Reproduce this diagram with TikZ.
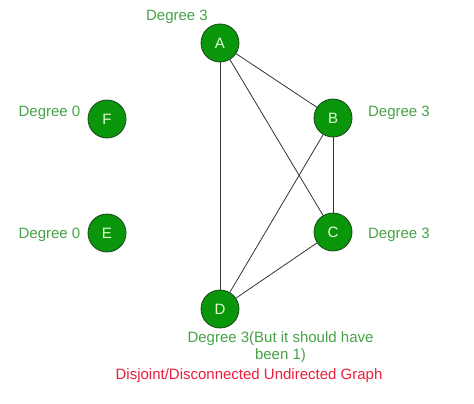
\documentclass[tikz,border=0pt]{standalone}
\usepackage{fontspec}
\setmainfont{Liberation Sans}
\usetikzlibrary{positioning}
\definecolor{vertexfill}{RGB}{10,150,10}
\definecolor{vertexline}{RGB}{25,70,25}
\definecolor{vertextext}{RGB}{225,255,210}
\definecolor{degreegreen}{RGB}{70,162,70}
\definecolor{captionred}{RGB}{235,30,60}

\begin{document}
\begin{tikzpicture}[x=1pt, y=-1pt, font=\fontsize{15}{17}\selectfont,
	vertex/.style={circle, draw=vertexline, fill=vertexfill, text=vertextext, minimum size=38pt, inner sep=0pt, line width=0.8pt},
	degree/.style={text=degreegreen, inner sep=0pt, anchor=base},
	edge/.style={draw=black!80, line width=0.8pt}]
	\useasboundingbox (0,0) rectangle (474,404);
	% vertices
	\node[vertex] (A) at (220,43) {A};
	\node[vertex] (B) at (333,118) {B};
	\node[vertex] (C) at (333,232) {C};
	\node[vertex] (D) at (220,309) {D};
	\node[vertex] (F) at (107,119) {F};
	\node[vertex] (E) at (107,233) {E};
	% edges
	\draw[edge] (A) -- (B);
	\draw[edge] (A) -- (C);
	\draw[edge] (A) -- (D);
	\draw[edge] (B) -- (C);
	\draw[edge] (B) -- (D);
	\draw[edge] (C) -- (D);
	% degrees
	\node[degree] (degA) at (177,21) {Degree 3};
	\node[degree] (degB) at (399,116) {Degree 3};
	\node[degree] (degC) at (399,238) {Degree 3};
	\node[degree] (degF) at (49.5,117) {Degree 0};
	\node[degree] (degE) at (49.5,238) {Degree 0};
	\node[text=degreegreen, inner sep=0pt, align=center] (degD) at (280.5,347.5) {Degree 3(But it should have\\been 1)};
	\node[text=captionred, inner sep=0pt, anchor=base] (caption) at (249,379) {Disjoint/Disconnected Undirected Graph};
\end{tikzpicture}
\end{document}
